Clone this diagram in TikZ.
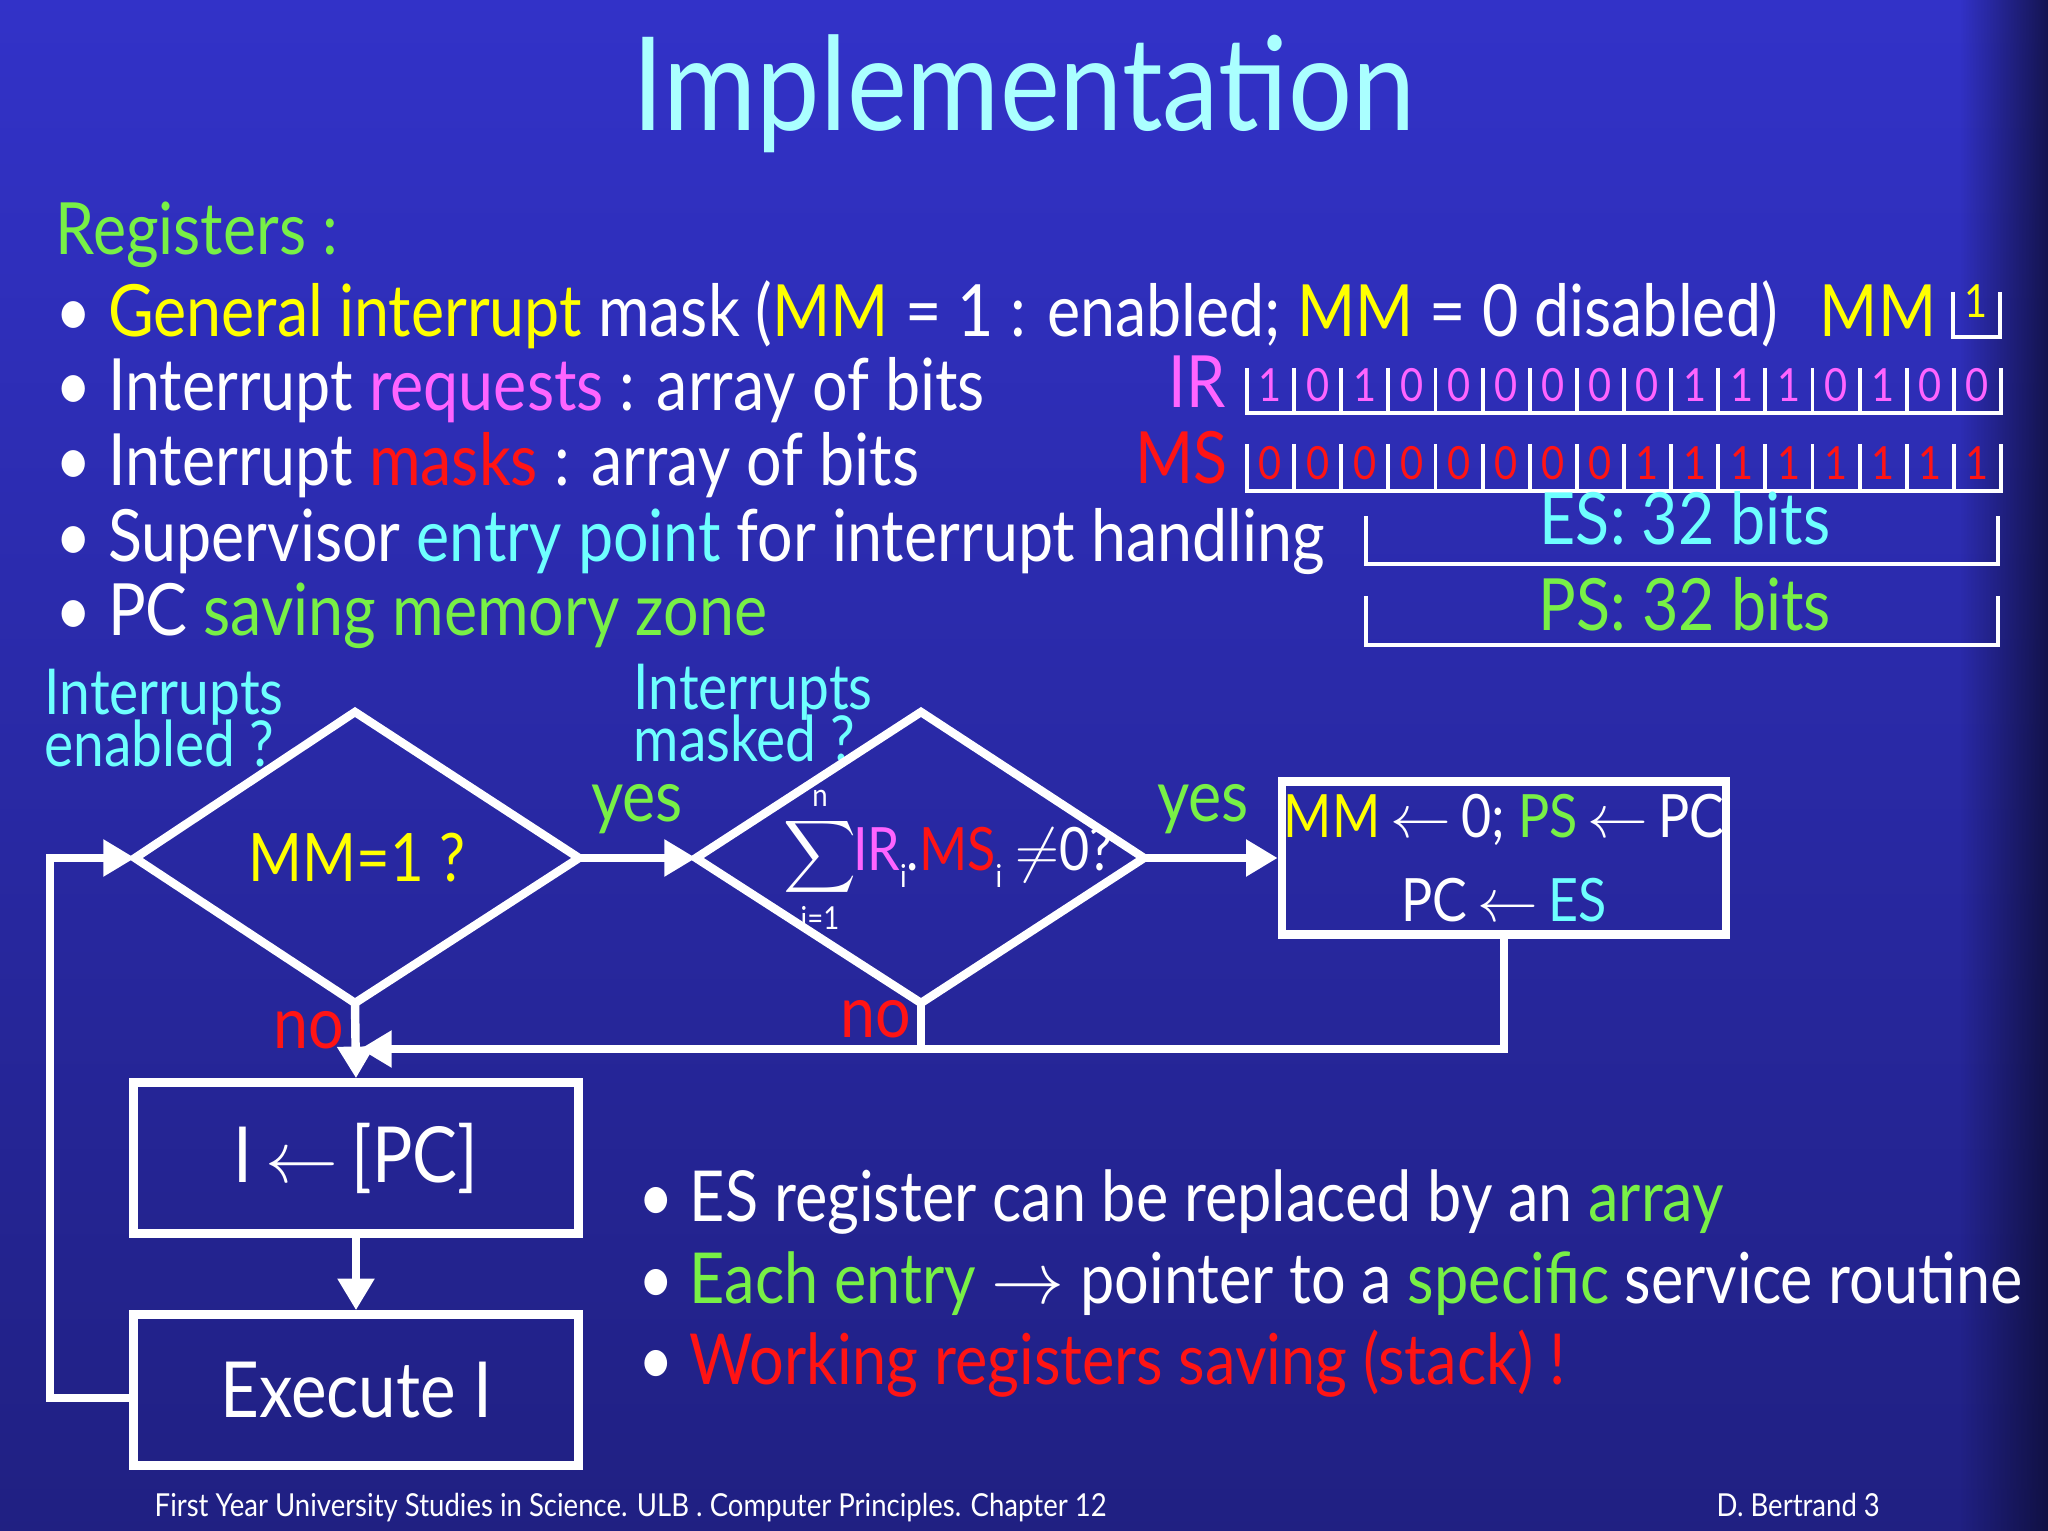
\documentclass[tikz,border=0pt]{standalone}
\usepackage{amsmath}
\usepackage{fontspec}
\setmainfont{Lato}[FakeStretch=0.87]
\usetikzlibrary{arrows.meta,fadings}
\definecolor{bgtop}{RGB}{50,50,200}
\definecolor{bgbot}{RGB}{32,32,130}
\definecolor{yel}{RGB}{255,255,0}
\definecolor{grn}{RGB}{120,240,70}
\definecolor{cya}{RGB}{110,255,255}
\definecolor{pnk}{RGB}{255,100,255}
\definecolor{rd}{RGB}{255,20,20}
\definecolor{ttl}{RGB}{170,255,255}
\tikzfading[name=fr, left color=transparent!100, right color=transparent!20]
\newcommand{\la}{\,$\leftarrow$\,}
\begin{document}
\begin{tikzpicture}[x=0.01cm,y=-0.01cm,
  txt/.style={anchor=base west,inner sep=0,text=white,font=\fontsize{20.5}{24}\selectfont},
  flow/.style={draw=white,line width=2.4pt},
  arr/.style={draw=white,line width=2.4pt,-{Triangle[length=9pt,width=10pt]}},
  reg/.style={draw=white,line width=1.1pt},
  bit/.style={anchor=base,inner sep=0,font=\fontsize{13}{14}\selectfont}]
\useasboundingbox (0,0) rectangle (2048,1531);
\shade[top color=bgtop,bottom color=bgbot] (0,0) rectangle (2048,1531);
\fill[black!60!bgbot,path fading=fr] (1960,0) rectangle (2048,1531);
% title
\node[anchor=base,inner sep=0,text=ttl,font=\fontsize{37}{40}\selectfont] (title) at (1024,131) {Implementation};
\node[txt,text=grn] (regs) at (55,255) {Registers :};
% bullets
\node[txt] (b1) at (55,337) {• \textcolor{yel}{General interrupt} mask (\textcolor{yel}{MM} = 1 : enabled; \textcolor{yel}{MM} = 0 disabled)};
\node[txt] (b2) at (55,411) {• Interrupt \textcolor{pnk}{requests} : array of bits};
\node[txt] (b3) at (55,486) {• Interrupt \textcolor{rd}{masks} : array of bits};
\node[txt] (b4) at (55,562) {• Supervisor \textcolor{cya}{entry point} for interrupt handling};
\node[txt] (b5) at (55,636) {• PC \textcolor{grn}{saving memory zone}};
% MM register
\node[txt,anchor=base east,text=yel] (mml) at (1937,337) {MM};
\draw[reg] (1953,292) -- (1953,337) -- (2000,337) -- (2000,292);
\node[bit,text=yel] (mmb) at (1976,318) {1};
% IR register
\node[txt,anchor=base east,text=pnk] (irl) at (1226,408) {IR};
\draw[reg] (1247,368) -- (1247,413) -- (2001,413) -- (2001,368);
\foreach \i in {1,...,15} \draw[reg] ({1247+\i*47.125},368) -- ({1247+\i*47.125},413);
\foreach \b [count=\i from 0] in {1,0,1,0,0,0,0,0,0,1,1,1,0,1,0,0}
  \node[bit,text=pnk] at ({1247+\i*47.125+23.5},402) {\b};
% MS register
\node[txt,anchor=base east,text=rd] (msl) at (1228,484) {MS};
\draw[reg] (1247,444) -- (1247,491) -- (2001,491) -- (2001,444);
\foreach \i in {1,...,15} \draw[reg] ({1247+\i*47.125},444) -- ({1247+\i*47.125},491);
\foreach \b [count=\i from 0] in {0,0,0,0,0,0,0,0,1,1,1,1,1,1,1,1}
  \node[bit,text=rd] at ({1247+\i*47.125+23.5},480) {\b};
% ES / PS
\draw[reg] (1366,516) -- (1366,564) -- (1998,564) -- (1998,516);
\node[txt,anchor=base,text=cya] (es) at (1685,545) {ES: 32 bits};
\draw[reg] (1366,596) -- (1366,645) -- (1998,645) -- (1998,596);
\node[txt,anchor=base,text=grn] (ps) at (1685,631) {PS: 32 bits};
% flowchart labels
\node[txt,text=cya,align=left,anchor=north west,font=\fontsize{18}{18}\selectfont] (q1) at (44,668) {Interrupts\\[-3pt]enabled ?};
\node[txt,text=cya,align=left,anchor=north west,font=\fontsize{18}{18}\selectfont] (q2) at (633,663) {Interrupts\\[-3pt]masked ?};
% diamonds
\coordinate (d1t) at (355,712); \coordinate (d1l) at (135,858);
\coordinate (d1r) at (579,858); \coordinate (d1b) at (355,1003);
\draw[flow,line join=miter] (d1t) -- (d1r) -- (d1b) -- (d1l) -- cycle;
\node[txt,anchor=center,text=yel,font=\fontsize{19}{22}\selectfont] (c1) at (357,858) {MM=1 ?};
\coordinate (d2t) at (921,712); \coordinate (d2l) at (696,858);
\coordinate (d2r) at (1144,858); \coordinate (d2b) at (921,1003);
\draw[flow,line join=miter] (d2t) -- (d2r) -- (d2b) -- (d2l) -- cycle;
\node[anchor=center,inner sep=0,text=white,font=\fontsize{17}{20}\selectfont] (c2) at (948,860)
  {{\fontsize{14}{16}\selectfont$\displaystyle\sum_{\text{\fontsize{9}{10}\selectfont i=1}}^{\text{\fontsize{9}{10}\selectfont n}}$}\hspace{-1pt}\textcolor{pnk}{IR}\raisebox{-5pt}{\fontsize{9}{10}\selectfont i}.\textcolor{rd}{MS}\raisebox{-5pt}{\fontsize{9}{10}\selectfont i} $\neq$0?};
\node[txt,text=grn,anchor=base] (y1) at (637,821) {yes};
\node[txt,text=grn,anchor=base] (y2) at (1203,821) {yes};
\node[txt,text=rd,anchor=base] (n1) at (309,1048) {no};
\node[txt,text=rd,anchor=base] (n2) at (876,1037) {no};
% boxes
\node[flow,minimum width=4.44cm,minimum height=1.53cm,inner sep=0,text=white,align=center,font=\fontsize{17}{24}\selectfont] (act) at (1504,858)
  {\textcolor{yel}{MM}\la 0; \textcolor{grn}{PS}\la PC\\PC\la \textcolor{cya}{ES}};
\node[flow,minimum width=4.45cm,minimum height=1.51cm,inner sep=0,text=white,font=\fontsize{22}{28}\selectfont] (fetch) at (356,1158) {I\la [PC]};
\node[flow,minimum width=4.45cm,minimum height=1.51cm,inner sep=0,text=white,font=\fontsize{22}{28}\selectfont] (exec) at (356,1390) {Execute I};
% connectors
\draw[arr] (d1r) -- (d2l);
\draw[arr] (d2r) -- (act.west);
\draw[arr] (d1b) -- (fetch.north);
\draw[arr] (fetch.south) -- (exec.north);
\coordinate (j1) at (1504,1049);
\coordinate (j2) at (921,1049);
\coordinate (j3) at (360,1049);
\draw[flow] (d2b) -- (j2);
\draw[arr] (act.south) -- (j1) -- (j3);
\coordinate (l1) at (50,1398);
\coordinate (l2) at (50,858);
\draw[arr] (exec.west |- l1) -- (l1) -- (l2) -- (d1l);
% bottom bullets
\node[txt,font=\fontsize{20}{26}\selectfont] (e1) at (638,1221) {• ES register can be replaced by an \textcolor{grn}{array}};
\node[txt,font=\fontsize{20}{26}\selectfont] (e2) at (638,1303) {• \textcolor{grn}{Each entry} $\rightarrow$ pointer to a \textcolor{grn}{specific} service routine};
\node[txt,font=\fontsize{20}{26}\selectfont] (e3) at (638,1384) {• \textcolor{rd}{Working registers saving (stack) !}};
% footer
\node[txt,font=\fontsize{9}{11}\selectfont] (f1) at (154,1516) {First Year University Studies in Science. ULB . Computer Principles. Chapter 12};
\node[txt,font=\fontsize{9}{11}\selectfont] (f2) at (1716,1516) {D. Bertrand 3};
\end{tikzpicture}
\end{document}
